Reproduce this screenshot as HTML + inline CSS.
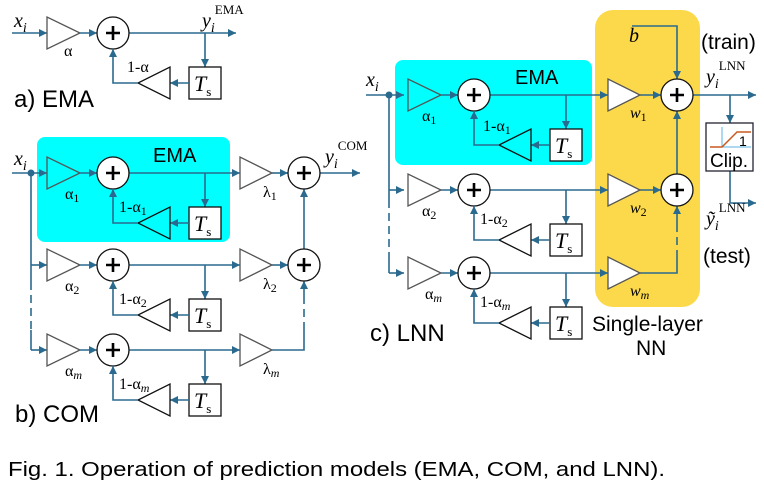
<!DOCTYPE html>
<html><head><meta charset="utf-8"><style>
html,body{margin:0;padding:0;background:#fff;width:764px;height:493px;overflow:hidden}
svg{display:block}
.s{font-family:"Liberation Serif",serif}
.a{font-family:"Liberation Sans",sans-serif}
</style></head><body>
<svg width="764" height="493" viewBox="0 0 764 493" xmlns="http://www.w3.org/2000/svg">
<defs>
<marker id="ar" viewBox="0 0 10 10" refX="10" refY="5" markerWidth="8" markerHeight="8" markerUnits="userSpaceOnUse" orient="auto"><path d="M0,0 L10,5 L0,10 z" fill="#2a6a8e"/></marker>
<g id="cell">
<polygon points="-66,-16 -66,16 -33,0" fill="none" stroke="#555" stroke-width="1.3"/>
<line x1="-33" y1="0" x2="-16" y2="0" stroke="#2a6a8e" stroke-width="1.6" marker-end="url(#ar)"/>
<circle cx="0" cy="0" r="16" fill="#fff" stroke="#111" stroke-width="1.3"/>
<path d="M-7,0 H7 M0,-7 V7" stroke="#000" stroke-width="2.6"/>
<line x1="92" y1="0" x2="92" y2="34" stroke="#2a6a8e" stroke-width="1.6" marker-end="url(#ar)"/>
<rect x="76" y="34" width="32" height="32" fill="#fff" stroke="#111" stroke-width="1.3"/>
<line x1="76" y1="50" x2="57" y2="50" stroke="#2a6a8e" stroke-width="1.6" marker-end="url(#ar)"/>
<polygon points="57,34 57,66 25,50" fill="none" stroke="#111" stroke-width="1.3"/>
<polyline points="25,50 0,50 0,16" fill="none" stroke="#2a6a8e" stroke-width="1.6" marker-end="url(#ar)"/>
</g>
<polygon id="tri" points="0,-16 0,16 32,0" fill="#fff" stroke="#555" stroke-width="1.3"/>
<g id="sum"><circle cx="0" cy="0" r="16" fill="#fff" stroke="#111" stroke-width="1.3"/><path d="M-7,0 H7 M0,-7 V7" stroke="#000" stroke-width="2.6"/></g>
</defs>

<g stroke="#2a6a8e" stroke-width="1.6" fill="none">
<line x1="12" y1="33" x2="47" y2="33" marker-end="url(#ar)"/>
<line x1="129" y1="33" x2="236" y2="33" marker-end="url(#ar)"/>
</g>
<use href="#cell" x="113" y="33"/>
<text x="14" y="27" class="s" font-size="20" font-style="italic">x<tspan font-size="14" dy="5">i</tspan></text>
<text x="202" y="27" class="s" font-size="20" font-style="italic">y<tspan font-size="14" dy="5">i</tspan><tspan font-size="13" font-style="normal" dy="-18">EMA</tspan></text>
<text x="64" y="56" class="s" font-size="16">α</text>
<text x="127" y="72" class="s" font-size="16">1-α</text>
<text x="194" y="91" class="s" font-size="22" font-style="italic">T<tspan font-size="13" font-style="normal" dy="5">s</tspan></text>
<text x="14" y="107" class="a" font-size="24">a) EMA</text>

<rect x="37" y="137" width="193" height="105" rx="8" fill="#00ffff"/>
<text x="153" y="162" class="a" font-size="20">EMA</text>
<g stroke="#2a6a8e" stroke-width="1.6" fill="none">
<line x1="12" y1="173" x2="47" y2="173" marker-end="url(#ar)"/>
<path d="M31,173 V282 M31,330 V350"/>
<path d="M31,282 V330" stroke-dasharray="8,5"/>
<line x1="31" y1="265" x2="47" y2="265" marker-end="url(#ar)"/>
<line x1="31" y1="350" x2="47" y2="350" marker-end="url(#ar)"/>
<line x1="129" y1="173" x2="240" y2="173" marker-end="url(#ar)"/>
<line x1="129" y1="265" x2="240" y2="265" marker-end="url(#ar)"/>
<line x1="129" y1="350" x2="240" y2="350" marker-end="url(#ar)"/>
<line x1="272" y1="173" x2="288" y2="173" marker-end="url(#ar)"/>
<line x1="272" y1="265" x2="288" y2="265" marker-end="url(#ar)"/>
<line x1="320" y1="173" x2="360" y2="173" marker-end="url(#ar)"/>
<line x1="304" y1="249" x2="304" y2="189" marker-end="url(#ar)"/>
<path d="M272,350 H304 V330"/>
<path d="M304,330 V300" stroke-dasharray="8,5"/>
<line x1="304" y1="300" x2="304" y2="281" marker-end="url(#ar)"/>
</g>
<circle cx="31" cy="173" r="3.5" fill="#2a6a8e"/>
<use href="#cell" x="113" y="173"/>
<use href="#cell" x="113" y="265"/>
<use href="#cell" x="113" y="350"/>
<use href="#tri" x="240" y="173"/>
<use href="#tri" x="240" y="265"/>
<use href="#tri" x="240" y="350"/>
<use href="#sum" x="304" y="173"/>
<use href="#sum" x="304" y="265"/>
<text x="14" y="165" class="s" font-size="20" font-style="italic">x<tspan font-size="14" dy="5">i</tspan></text>
<text x="325" y="163" class="s" font-size="20" font-style="italic">y<tspan font-size="14" dy="5">i</tspan><tspan font-size="13" font-style="normal" dy="-18">COM</tspan></text>
<text x="65" y="199" class="s" font-size="16">α<tspan font-size="12" dy="3">1</tspan></text>
<text x="65" y="291" class="s" font-size="16">α<tspan font-size="12" dy="3">2</tspan></text>
<text x="65" y="376" class="s" font-size="16">α<tspan font-size="12" dy="3" font-style="italic">m</tspan></text>
<text x="119" y="212" class="s" font-size="16">1-α<tspan font-size="12" dy="3">1</tspan></text>
<text x="119" y="304" class="s" font-size="16">1-α<tspan font-size="12" dy="3">2</tspan></text>
<text x="119" y="389" class="s" font-size="16">1-α<tspan font-size="12" dy="3" font-style="italic">m</tspan></text>
<text x="263" y="197" class="s" font-size="16">λ<tspan font-size="12" dy="3">1</tspan></text>
<text x="263" y="289" class="s" font-size="16">λ<tspan font-size="12" dy="3">2</tspan></text>
<text x="263" y="374" class="s" font-size="16">λ<tspan font-size="12" dy="3" font-style="italic">m</tspan></text>
<text x="194" y="231" class="s" font-size="22" font-style="italic">T<tspan font-size="13" font-style="normal" dy="5">s</tspan></text>
<text x="194" y="323" class="s" font-size="22" font-style="italic">T<tspan font-size="13" font-style="normal" dy="5">s</tspan></text>
<text x="194" y="408" class="s" font-size="22" font-style="italic">T<tspan font-size="13" font-style="normal" dy="5">s</tspan></text>
<text x="15" y="422" class="a" font-size="24">b) COM</text>

<rect x="595" y="10" width="105" height="297" rx="18" fill="#fcd94a"/>
<rect x="395" y="60" width="197" height="105" rx="8" fill="#00ffff"/>
<text x="515" y="84" class="a" font-size="20">EMA</text>
<g stroke="#2a6a8e" stroke-width="1.6" fill="none">
<line x1="366" y1="95" x2="404" y2="95" marker-end="url(#ar)"/>
<path d="M389,95 V200 M389,255 V273"/>
<path d="M389,200 V255" stroke-dasharray="8,5"/>
<line x1="389" y1="190" x2="404" y2="190" marker-end="url(#ar)"/>
<line x1="389" y1="273" x2="404" y2="273" marker-end="url(#ar)"/>
<line x1="490" y1="95" x2="608" y2="95" marker-end="url(#ar)"/>
<line x1="490" y1="190" x2="608" y2="190" marker-end="url(#ar)"/>
<line x1="490" y1="273" x2="608" y2="273" marker-end="url(#ar)"/>
<line x1="640" y1="95" x2="661" y2="95" marker-end="url(#ar)"/>
<line x1="640" y1="190" x2="661" y2="190" marker-end="url(#ar)"/>
<polyline points="632,26 677,26 677,79" marker-end="url(#ar)"/>
<line x1="677" y1="174" x2="677" y2="111" marker-end="url(#ar)"/>
<path d="M640,273 H677 V258"/>
<path d="M677,258 V225" stroke-dasharray="8,5"/>
<line x1="677" y1="225" x2="677" y2="206" marker-end="url(#ar)"/>
<line x1="693" y1="95" x2="756" y2="95" marker-end="url(#ar)"/>
<line x1="730" y1="95" x2="730" y2="123" marker-end="url(#ar)"/>
<polyline points="730,171 730,203 756,203" marker-end="url(#ar)"/>
</g>
<circle cx="389" cy="95" r="3.5" fill="#2a6a8e"/>
<use href="#cell" x="474" y="95"/>
<use href="#cell" x="474" y="190"/>
<use href="#cell" x="474" y="273"/>
<use href="#tri" x="608" y="95"/>
<use href="#tri" x="608" y="190"/>
<use href="#tri" x="608" y="273"/>
<use href="#sum" x="677" y="95"/>
<use href="#sum" x="677" y="190"/>
<rect x="706" y="123" width="47" height="48" fill="#fff" stroke="#223" stroke-width="1.3"/>
<g stroke-width="1">
<line x1="722" y1="147" x2="722" y2="127" stroke="#5ab0e0"/>
<line x1="710" y1="147" x2="751" y2="147" stroke="#5ab0e0"/>
<polyline points="710,147 722,147 737,132 751,132" fill="none" stroke="#c85a20" stroke-width="1.5"/>
</g>
<text x="739" y="146" class="a" font-size="14">1</text>
<text x="710" y="167" class="a" font-size="19">Clip.</text>
<text x="366" y="86" class="s" font-size="20" font-style="italic">x<tspan font-size="14" dy="5">i</tspan></text>
<text x="629" y="42" class="s" font-size="20" font-style="italic">b</text>
<text x="701" y="49" class="a" font-size="21">(train)</text>
<text x="706" y="83" class="s" font-size="20" font-style="italic">y<tspan font-size="14" dy="5">i</tspan><tspan font-size="13" font-style="normal" dy="-18">LNN</tspan></text>
<text x="706" y="225" class="s" font-size="20" font-style="italic">ỹ<tspan font-size="14" dy="5">i</tspan><tspan font-size="13" font-style="normal" dy="-18">LNN</tspan></text>
<text x="703" y="263" class="a" font-size="21">(test)</text>
<text x="422" y="121" class="s" font-size="16">α<tspan font-size="12" dy="3">1</tspan></text>
<text x="422" y="216" class="s" font-size="16">α<tspan font-size="12" dy="3">2</tspan></text>
<text x="425" y="299" class="s" font-size="16">α<tspan font-size="12" dy="3" font-style="italic">m</tspan></text>
<text x="483" y="131" class="s" font-size="16">1-α<tspan font-size="12" dy="3">1</tspan></text>
<text x="480" y="224" class="s" font-size="16">1-α<tspan font-size="12" dy="3">2</tspan></text>
<text x="480" y="307" class="s" font-size="16">1-α<tspan font-size="12" dy="3" font-style="italic">m</tspan></text>
<text x="630" y="118" class="s" font-size="16" font-style="italic">w<tspan font-size="12" font-style="normal" dy="3">1</tspan></text>
<text x="630" y="213" class="s" font-size="16" font-style="italic">w<tspan font-size="12" font-style="normal" dy="3">2</tspan></text>
<text x="630" y="296" class="s" font-size="16" font-style="italic">w<tspan font-size="12" dy="3">m</tspan></text>
<text x="555" y="153" class="s" font-size="22" font-style="italic">T<tspan font-size="13" font-style="normal" dy="5">s</tspan></text>
<text x="555" y="248" class="s" font-size="22" font-style="italic">T<tspan font-size="13" font-style="normal" dy="5">s</tspan></text>
<text x="555" y="331" class="s" font-size="22" font-style="italic">T<tspan font-size="13" font-style="normal" dy="5">s</tspan></text>
<text x="592" y="331" class="a" font-size="21">Single-layer</text>
<text x="636" y="355" class="a" font-size="21">NN</text>
<text x="370" y="341" class="a" font-size="24">c) LNN</text>

<text x="8" y="476" class="a" font-size="20" textLength="657" lengthAdjust="spacingAndGlyphs">Fig. 1.  Operation of prediction models (EMA, COM, and LNN).</text>
</svg>
</body></html>
